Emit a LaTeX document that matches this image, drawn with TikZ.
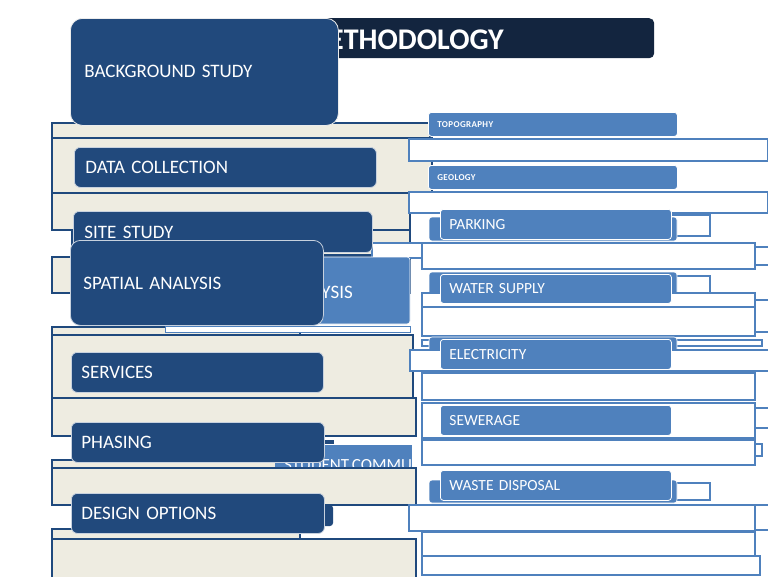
\documentclass[tikz,border=0pt]{standalone}
\usepackage{fontspec}
\setmainfont{Carlito}[WordSpace=0.75]
\definecolor{titlebg}{HTML}{13253F}
\definecolor{dkblue}{HTML}{21497C}
\definecolor{ltblue}{HTML}{4F81BD}
\definecolor{cream}{HTML}{EEECE1}
\definecolor{bord}{HTML}{1F497D}
\begin{document}
\begin{tikzpicture}[x=1pt,y=-1pt,
  creamband/.style={fill=cream,draw=bord,line width=1.3pt},
  wbox/.style={fill=white,draw=ltblue,line width=1.2pt},
  ltback/.style={fill=ltblue,draw=white,line width=0.6pt,rounded corners=3pt},
  dbox/.style={fill=dkblue,draw=white!75!dkblue,line width=0.8pt,rounded corners=6pt,
    anchor=north west,inner ysep=0pt,inner xsep=11pt,align=left,text=white,
    font=\fontsize{19}{21}\selectfont},
  lbox/.style={fill=ltblue,draw=white,line width=0.8pt,rounded corners=3pt,
    anchor=north west,inner ysep=0pt,inner xsep=9pt,align=left,text=white,
    font=\fontsize{15.5}{17}\selectfont},
  sbox/.style={lbox,font=\addfontfeatures{LetterSpace=4}\bfseries\fontsize{9}{11}\selectfont}
]
\useasboundingbox (0,0) rectangle (768,576);
\fill[white] (0,0) rectangle (768,576);

% title bar
\node[fill=titlebg,rounded corners=5pt,anchor=north west,minimum width=354pt,minimum height=40pt,inner sep=0pt] (titlebar) at (300,18) {};
\node[anchor=east,text=white,font=\bfseries\fontsize{30}{32}\selectfont,inner sep=0pt] (title) at (504,40) {METHODOLOGY};

% left cream bands
\path[creamband] (52,123) rectangle (430,138);
\path[creamband] (52,138) rectangle (432,193);
\path[creamband] (52,193) rectangle (410,230);
\path[creamband] (72,230) rectangle (410,255);
\path[creamband] (52,257) rectangle (410,293);
\path[creamband] (52,327) rectangle (300,337);
\path[creamband] (52,335) rectangle (413,398);
\path[creamband] (52,398) rectangle (416,436);
\path[creamband] (52,460) rectangle (300,470);

% hidden light blue pieces in the middle
\path[wbox] (372,243) rectangle (425,258);
\path[ltback] (222,257) rectangle (410,324);
\node[anchor=east,text=white,font=\fontsize{19}{21}\selectfont,inner sep=0pt] (analysis) at (353,292) {ANALYSIS};
\path[wbox,line width=0.8pt] (165,326) rectangle (410,332);
\path[fill=ltblue] (275,445) rectangle (412,469);
\node[anchor=base west,text=white,font=\fontsize{17}{19}\selectfont,inner sep=0pt] (student) at (284,470) {STUDENT COMMU};
\path[fill=dkblue] (325,440) rectangle (334,444);

\path[creamband] (52,468) rectangle (416,505);
\path[creamband] (52,529) rectangle (300,539);
\path[creamband] (52,539) rectangle (416,578);
\path[fill=dkblue,rounded corners=3pt] (300,505) rectangle (333,526);

% right side white boxes and back shapes
\path[wbox] (409,139) rectangle (768,161);
\path[wbox] (409,192) rectangle (768,213);
\path[wbox] (670,215) rectangle (710,236);
\path[ltback] (429,217) rectangle (677,241);
\path[wbox] (755,247) rectangle (770,265);
\path[wbox] (422,243) rectangle (755,269);
\path[wbox] (670,276) rectangle (710,294);
\path[ltback] (429,272) rectangle (677,300);
\path[wbox] (755,300) rectangle (770,332);
\path[wbox] (422,293) rectangle (755,307);
\path[wbox] (422,307) rectangle (755,336);
\path[wbox] (422,340) rectangle (762,346);
\path[ltback] (429,337) rectangle (677,365);
\path[wbox] (410,350) rectangle (770,371);
\path[wbox] (422,373) rectangle (755,400);
\path[wbox] (755,408) rectangle (770,428);
\path[wbox] (422,403) rectangle (755,438);
\path[wbox] (755,444) rectangle (762,456);
\path[wbox] (422,440) rectangle (755,465);
\path[wbox] (670,483) rectangle (710,500);
\path[ltback] (429,480) rectangle (677,503);
\path[wbox] (755,505) rectangle (770,530);
\path[wbox] (409,505) rectangle (755,531);
\path[wbox] (422,532) rectangle (755,556);
\path[wbox] (422,556) rectangle (760,575);

% right label boxes
\node[sbox,minimum width=249pt,minimum height=24pt,text width=231pt] (topo) at (428,112) {TOPOGRAPHY};
\node[sbox,minimum width=249pt,minimum height=24pt,text width=231pt] (geo) at (428,165) {GEOLOGY};
\node[lbox,minimum width=231pt,minimum height=30pt,text width=213pt] (parking) at (440,209) {PARKING};
\node[lbox,minimum width=231pt,minimum height=29pt,text width=213pt] (water) at (440,274) {WATER SUPPLY};
\node[lbox,minimum width=231pt,minimum height=30pt,text width=213pt] (elec) at (440,339) {ELECTRICITY};
\node[lbox,minimum width=231pt,minimum height=30pt,text width=213pt] (sew) at (440,405) {SEWERAGE};
\node[lbox,minimum width=231pt,minimum height=30pt,text width=213pt] (waste) at (440,470) {WASTE DISPOSAL};

% left dark boxes
\node[dbox,minimum width=302pt,minimum height=40pt,text width=280pt] (data) at (74,147) {DATA COLLECTION};
\node[dbox,minimum width=299pt,minimum height=41pt,text width=277pt] (site) at (73,211) {SITE STUDY};
\node[dbox,minimum width=253pt,minimum height=85pt,text width=227pt,inner xsep=13pt,rounded corners=10pt] (spatial) at (70,240) {SPATIAL ANALYSIS};
\node[dbox,minimum width=252pt,minimum height=40pt,text width=232pt,inner xsep=10pt] (services) at (71,352) {SERVICES};
\node[dbox,minimum width=253pt,minimum height=40pt,text width=233pt,inner xsep=10pt] (phasing) at (71,422) {PHASING};
\node[dbox,minimum width=253pt,minimum height=40pt,text width=233pt,inner xsep=10pt] (design) at (71,493) {DESIGN OPTIONS};
\node[dbox,minimum width=268pt,minimum height=107pt,text width=240pt,inner xsep=14pt,rounded corners=12pt,draw=white!85!gray] (bg) at (70,18) {BACKGROUND STUDY};
\end{tikzpicture}
\end{document}
